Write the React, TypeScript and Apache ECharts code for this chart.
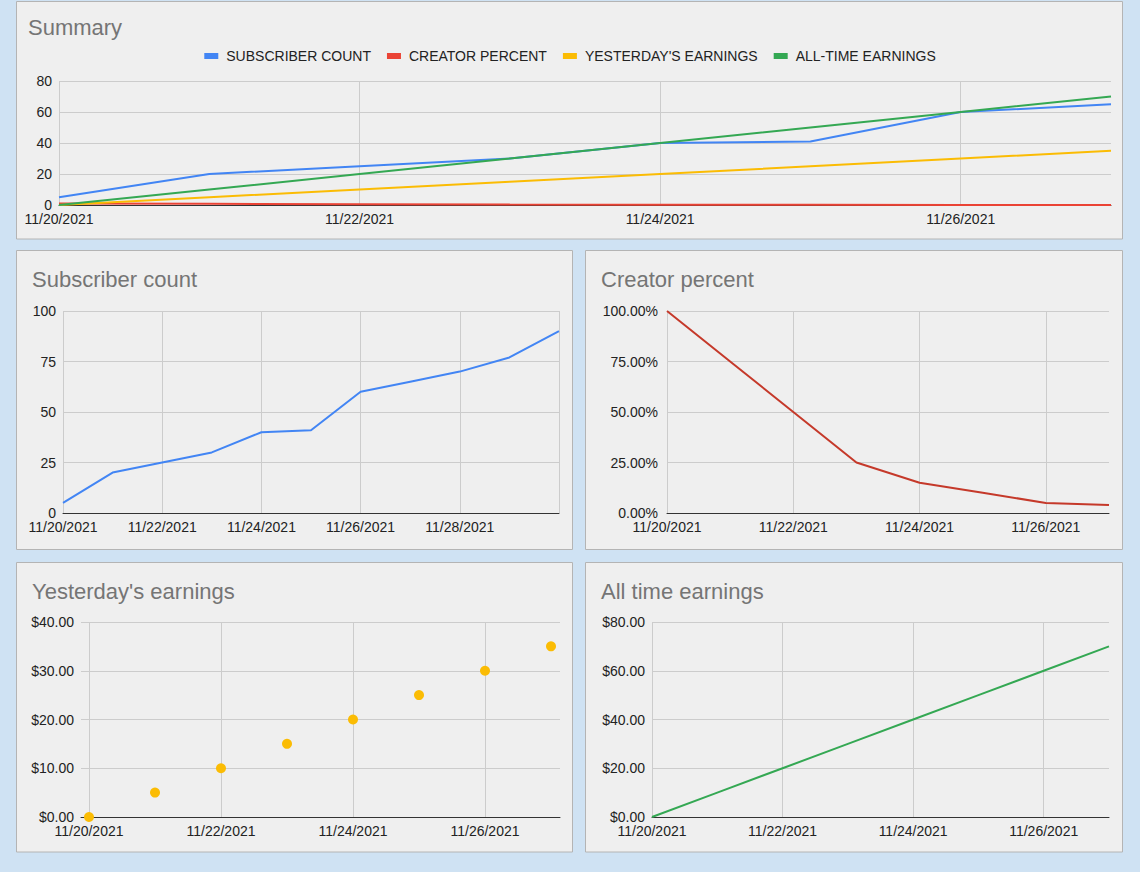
import React, { useEffect, useRef } from 'react';
import * as echarts from 'echarts';

// ---- data ----
const weekDates = ['11/20/2021', '11/21/2021', '11/22/2021', '11/23/2021', '11/24/2021', '11/25/2021', '11/26/2021', '11/27/2021'];
const subscriberDates = ['11/20/2021', '11/21/2021', '11/22/2021', '11/23/2021', '11/24/2021', '11/25/2021', '11/26/2021', '11/27/2021', '11/28/2021', '11/29/2021', '11/30/2021'];

const summarySubscribers = [5, 20, 25, 30, 40, 41, 60, 65];
const summaryCreatorPercent = [1, 0.75, 0.5, 0.25, 0.15, 0.1, 0.05, 0.04];
const summaryYesterday = [0, 5, 10, 15, 20, 25, 30, 35];
const summaryAllTime = [0, 10, 20, 30, 40, 50, 60, 70];

const subscriberCounts = [5, 20, 25, 30, 40, 41, 60, 65, 70, 77, 90];
const creatorPercent = [1, 0.75, 0.5, 0.25, 0.15, 0.1, 0.05, 0.04];
const yesterdayEarnings = [0, 5, 10, 15, 20, 25, 30, 35];
const allTimeEarnings = [0, 10, 20, 30, 40, 50, 60, 70];

const legendNames = ['SUBSCRIBER COUNT', 'CREATOR PERCENT', "YESTERDAY'S EARNINGS", 'ALL-TIME EARNINGS'];
const panelTitles = ['Summary', 'Subscriber count', 'Creator percent', "Yesterday's earnings", 'All time earnings'];

const FONT = 'Arial, "Liberation Sans", sans-serif';
const BLUE = '#4285f4';
const RED = '#ea4335';
const DARK_RED = '#c5392a';
const YELLOW = '#fbbc04';
const GREEN = '#34a853';
const GRID_COLOR = '#cccccc';
const LABEL_COLOR = '#222222';

function catAxis(gridIndex: number, data: string[], extra: any = {}) {
  return {
    type: 'category',
    gridIndex,
    data,
    boundaryGap: false,
    axisLine: { show: true, lineStyle: { color: '#333333', width: 1 } },
    axisTick: { show: false, interval: 1 },
    axisLabel: { interval: 1, fontSize: 14, color: LABEL_COLOR, fontFamily: FONT, margin: 7 },
    splitLine: { show: true, interval: 1, lineStyle: { color: GRID_COLOR, width: 1 } },
    ...extra,
  };
}

function valAxis(gridIndex: number, max: number, interval: number, formatter?: (v: number) => string, extra: any = {}) {
  return {
    type: 'value',
    gridIndex,
    min: 0,
    max,
    interval,
    axisLine: { show: false },
    axisTick: { show: false },
    axisLabel: { fontSize: 14, color: LABEL_COLOR, fontFamily: FONT, margin: 7, formatter },
    splitLine: { show: true, lineStyle: { color: GRID_COLOR, width: 1 } },
    ...extra,
  };
}

const titleStyle = { fontSize: 22, color: '#757575', fontWeight: 'normal' as const, fontFamily: FONT };

export default function App() {
  const ref = useRef<HTMLDivElement>(null);

  useEffect(() => {
    document.body.style.margin = '0';
    if (!ref.current) return;
    const chart = echarts.init(ref.current, undefined, { renderer: 'svg' });

    const panelStyle = { fill: '#efefef', stroke: '#b4b4b4', lineWidth: 1 };
    const panels = [
      { x: 16.5, y: 1.5, width: 1106, height: 237.5 },
      { x: 16.5, y: 250.5, width: 556, height: 299 },
      { x: 585.5, y: 250.5, width: 537, height: 299 },
      { x: 16.5, y: 562.5, width: 556, height: 289.5 },
      { x: 585.5, y: 562.5, width: 537, height: 289.5 },
    ];

    const option: any = {
      animation: false,
      backgroundColor: '#cfe2f3',
      textStyle: { fontFamily: FONT },
      graphic: panels.map((p) => ({ type: 'rect', z: -10, silent: true, shape: p, style: panelStyle })),
      title: [
        { text: panelTitles[0], left: 28, top: 16, padding: 0, textStyle: titleStyle },
        { text: panelTitles[1], left: 32, top: 268, padding: 0, textStyle: titleStyle },
        { text: panelTitles[2], left: 601, top: 268, padding: 0, textStyle: titleStyle },
        { text: panelTitles[3], left: 32, top: 580, padding: 0, textStyle: titleStyle },
        { text: panelTitles[4], left: 601, top: 580, padding: 0, textStyle: titleStyle },
      ],
      legend: {
        data: legendNames,
        left: 'center',
        top: 49,
        padding: 0,
        icon: 'rect',
        itemWidth: 14,
        itemHeight: 6,
        itemGap: 16,
        selectedMode: false,
        textStyle: { fontSize: 14, color: LABEL_COLOR, fontFamily: FONT, padding: [0, 0, 0, 3] },
      },
      grid: [
        { left: 59, right: 29, top: 81, bottom: 667 },
        { left: 63, right: 581, top: 311, bottom: 359 },
        { left: 667, right: 31, top: 311, bottom: 359 },
        { left: 81, right: 580, top: 622, bottom: 55 },
        { left: 89, right: 589, top: 622, bottom: 55 },
        { left: 652, right: 31, top: 622, bottom: 55 },
      ],
      xAxis: [
        catAxis(0, weekDates),
        catAxis(1, subscriberDates, {
          axisLabel: { interval: 1, fontSize: 14, color: LABEL_COLOR, fontFamily: FONT, margin: 7, showMaxLabel: false },
        }),
        catAxis(2, weekDates),
        {
          type: 'value',
          gridIndex: 3,
          min: 0,
          max: 1,
          axisLine: { show: true, lineStyle: { color: '#333333', width: 1 } },
          axisTick: { show: false },
          axisLabel: { show: false },
          splitLine: { show: false },
        },
        catAxis(4, weekDates, { axisLine: { show: false } }),
        catAxis(5, weekDates),
      ],
      yAxis: [
        valAxis(0, 80, 20),
        valAxis(1, 100, 25),
        valAxis(2, 1, 0.25, undefined, {
          axisLabel: { fontSize: 14, color: LABEL_COLOR, fontFamily: FONT, margin: 9, formatter: (v: number) => (v * 100).toFixed(2) + '%' },
        }),
        valAxis(3, 40, 10, (v: number) => '$' + v.toFixed(2)),
        valAxis(4, 40, 10, undefined, { show: false }),
        valAxis(5, 80, 20, (v: number) => '$' + v.toFixed(2)),
      ],
      series: [
        { name: legendNames[1], type: 'line', xAxisIndex: 0, yAxisIndex: 0, data: summaryCreatorPercent, showSymbol: false, lineStyle: { width: 2, color: RED }, itemStyle: { color: RED } },
        { name: legendNames[0], type: 'line', xAxisIndex: 0, yAxisIndex: 0, data: summarySubscribers, showSymbol: false, lineStyle: { width: 2, color: BLUE }, itemStyle: { color: BLUE } },
        { name: legendNames[2], type: 'line', xAxisIndex: 0, yAxisIndex: 0, data: summaryYesterday, showSymbol: false, lineStyle: { width: 2, color: YELLOW }, itemStyle: { color: YELLOW } },
        { name: legendNames[3], type: 'line', xAxisIndex: 0, yAxisIndex: 0, data: summaryAllTime, showSymbol: false, lineStyle: { width: 2, color: GREEN }, itemStyle: { color: GREEN } },
        { name: 'Subscriber count', type: 'line', xAxisIndex: 1, yAxisIndex: 1, data: subscriberCounts, showSymbol: false, lineStyle: { width: 2, color: BLUE }, itemStyle: { color: BLUE } },
        { name: 'Creator percent', type: 'line', xAxisIndex: 2, yAxisIndex: 2, data: creatorPercent, showSymbol: false, lineStyle: { width: 2, color: DARK_RED }, itemStyle: { color: DARK_RED } },
        { name: "Yesterday's earnings", type: 'scatter', xAxisIndex: 4, yAxisIndex: 4, data: yesterdayEarnings, symbolSize: 10, itemStyle: { color: YELLOW, opacity: 1 } },
        { name: 'All time earnings', type: 'line', xAxisIndex: 5, yAxisIndex: 5, data: allTimeEarnings, showSymbol: false, lineStyle: { width: 2, color: GREEN }, itemStyle: { color: GREEN } },
      ],
    };

    chart.setOption(option);
    return () => {
      chart.dispose();
    };
  }, []);

  return <div ref={ref} style={{ width: 1140, height: 872 }} />;
}
